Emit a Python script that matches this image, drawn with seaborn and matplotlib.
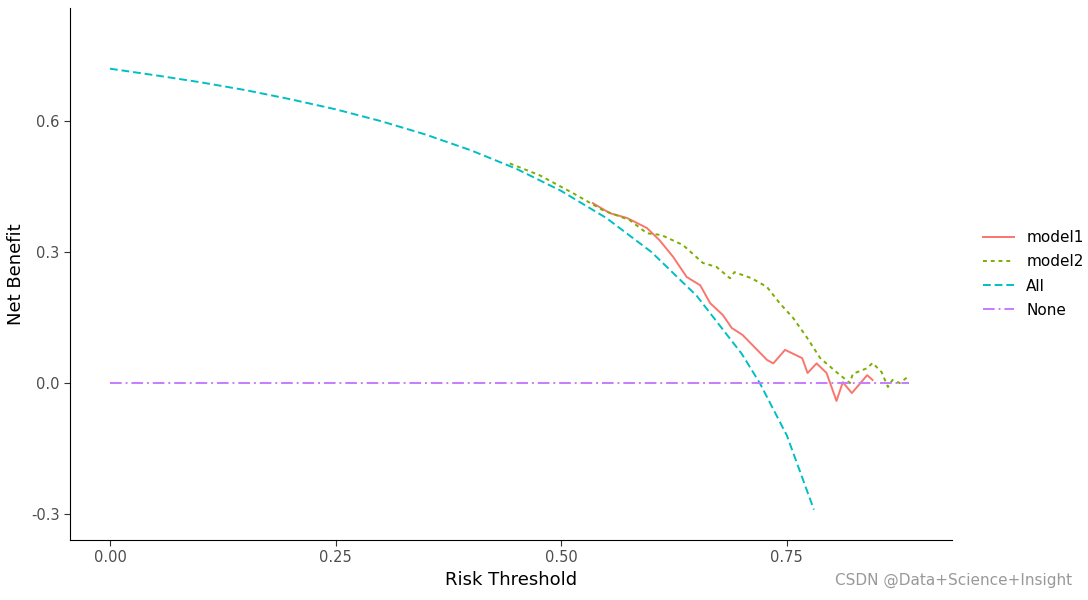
import matplotlib
matplotlib.use("Agg")
import matplotlib.pyplot as plt
import seaborn as sns
import pandas as pd

# net benefit curves
t_all = [0.0, 0.05, 0.10, 0.15, 0.20, 0.25, 0.30, 0.35, 0.40, 0.45, 0.50, 0.55,
         0.60, 0.65, 0.70, 0.72, 0.75, 0.78]
nb_all = [0.72, 0.705, 0.689, 0.671, 0.650, 0.627, 0.600, 0.569, 0.533, 0.491, 0.440, 0.378,
          0.300, 0.200, 0.067, 0.0, -0.120, -0.290]

t_m1 = [0.535, 0.554, 0.573, 0.595, 0.609, 0.624, 0.639, 0.654, 0.665, 0.679, 0.689, 0.701,
        0.728, 0.735, 0.748, 0.767, 0.773, 0.783, 0.794, 0.805, 0.812, 0.822, 0.839, 0.845]
nb_m1 = [0.412, 0.389, 0.378, 0.355, 0.327, 0.289, 0.243, 0.224, 0.183, 0.156, 0.126, 0.110,
         0.053, 0.045, 0.076, 0.057, 0.023, 0.045, 0.023, -0.041, 0.002, -0.023, 0.018, 0.007]

t_m2 = [0.443, 0.476, 0.513, 0.546, 0.576, 0.595, 0.611, 0.635, 0.657, 0.672, 0.687, 0.692,
        0.711, 0.728, 0.742, 0.757, 0.772, 0.787, 0.805, 0.820, 0.823, 0.839, 0.845, 0.855,
        0.862, 0.867, 0.875, 0.884]
nb_m2 = [0.503, 0.476, 0.435, 0.396, 0.373, 0.343, 0.339, 0.316, 0.275, 0.266, 0.240, 0.254,
         0.240, 0.220, 0.183, 0.149, 0.105, 0.057, 0.025, 0.000, 0.021, 0.034, 0.046, 0.025,
         -0.009, 0.007, 0.0, 0.014]

t_none = [0.0, 0.885]
nb_none = [0.0, 0.0]

series = [
    ("model1", t_m1, nb_m1, "#F8766D", "-"),
    ("model2", t_m2, nb_m2, "#7CAE00", (0, (2, 2))),
    ("All", t_all, nb_all, "#00BFC4", (0, (4, 2))),
    ("None", t_none, nb_none, "#C77CFF", (0, (6, 2, 1, 2))),
]

fig = plt.figure(figsize=(10.88, 6), dpi=100)
ax = fig.add_axes([70 / 1088, 60 / 600, 882 / 1088, 532 / 600])

for name, t, nb, col, ls in series:
    df = pd.DataFrame({"t": t, "nb": nb})
    sns.lineplot(data=df, x="t", y="nb", ax=ax, color=col, linestyle=ls,
                 linewidth=1.4, label=name, sort=False, estimator=None)

ax.set_xlim(-0.0443, 0.933)
ax.set_ylim(-0.3595, 0.859)
ax.set_xticks([0, 0.25, 0.5, 0.75])
ax.set_xticklabels(["0.00", "0.25", "0.50", "0.75"])
ax.set_yticks([-0.3, 0.0, 0.3, 0.6])
ax.set_yticklabels(["-0.3", "0.0", "0.3", "0.6"])
ax.tick_params(colors="#4d4d4d", labelsize=10.5, length=4)
ax.tick_params(axis="both", color="#333333")
for s in ["top", "right"]:
    ax.spines[s].set_visible(False)
for s in ["left", "bottom"]:
    ax.spines[s].set_color("black")
ax.set_xlabel("Risk Threshold", fontsize=13)
ax.set_ylabel("Net Benefit", fontsize=13)

ax.legend(loc="center left", bbox_to_anchor=(1.02, 0.5), frameon=False,
          fontsize=11, handlelength=2.0, labelspacing=0.6)

fig.text(0.985, 0.02, "CSDN @Data+Science+Insight", ha="right", va="bottom",
         fontsize=11, color="#999999")

fig.savefig("out.png", dpi=100)
